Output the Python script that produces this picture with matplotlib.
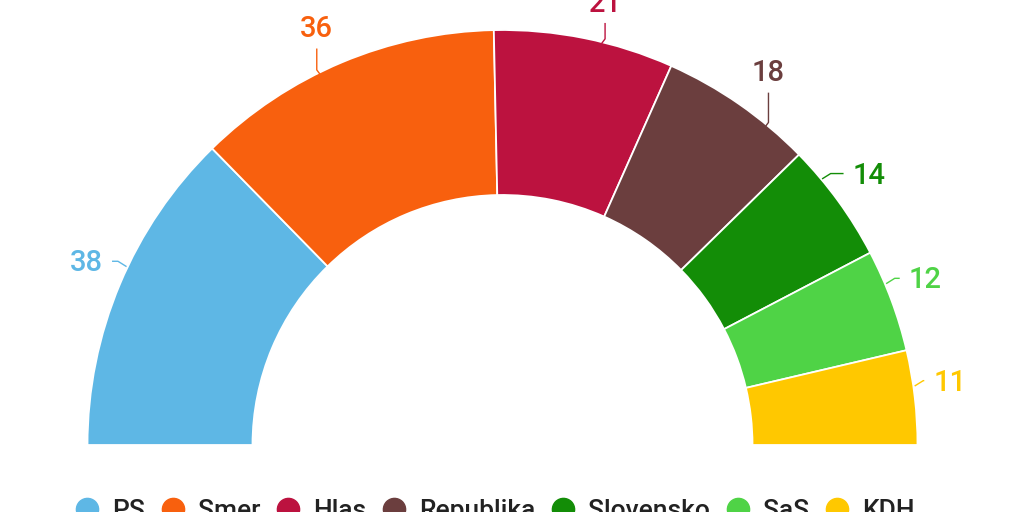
import numpy as np
import matplotlib.pyplot as plt
from matplotlib.lines import Line2D

plt.rcParams['font.family'] = ['Roboto', 'DejaVu Sans']

# seats per party (150 total)
parties = ['PS', 'Smer', 'Hlas', 'Republika', 'Slovensko', 'SaS', 'KDH']
seats = [38, 36, 21, 18, 14, 12, 11]
colors = ['#5EB7E5', '#F8600E', '#BC123F', '#6B3E3E', '#138D07', '#4FD346', '#FFC800']

W, H = 1024, 512
cx, cy = 502.5, H - 445   # centre of the half ring, pixel units (y up)
r_out, r_in = 415, 250

fig = plt.figure(figsize=(W / 100, H / 100), dpi=100)
ax = fig.add_axes([0, 0, 1, 1])

total = sum(seats)
wedges, _ = ax.pie(seats + [total], radius=r_out, center=(cx, cy),
                   startangle=180, counterclock=False,
                   colors=colors + ['none'],
                   wedgeprops=dict(width=r_out - r_in, edgecolor='white', linewidth=1.3))
wedges[-1].set_visible(False)

ax.set_xlim(0, W)
ax.set_ylim(0, H)
ax.set_aspect('equal')
ax.axis('off')

# data labels with small connectors
cum = np.cumsum([0] + seats)
for i, s in enumerate(seats):
    mid = (cum[i] + s / 2) / total * np.pi
    a = np.pi - mid
    sgn = 1 if np.cos(a) > 0 else -1
    lx = cx + 438 * np.cos(a)
    ly = cy + 438 * np.sin(a) + 14
    col = colors[i]
    if abs(np.cos(a)) < 0.6:
        # top labels: centred text, vertical connector
        tx = lx + 16 * sgn
        ax.text(tx, ly - 10, str(s), color=col, fontsize=21, fontweight='medium',
                ha='center', va='baseline')
        ey = cy + np.sqrt(r_out ** 2 - (tx - cx) ** 2)
        ax.plot([tx - 3 * sgn, tx, tx], [ey, ey + 4, ly - 22], color=col, lw=1)
    else:
        ha = 'left' if sgn > 0 else 'right'
        lx = lx - 4 * sgn
        ax.text(lx, ly - 10, str(s), color=col, fontsize=21, fontweight='medium',
                ha=ha, va='baseline')
        sy = ly - 5
        sx = cx + sgn * np.sqrt(r_out ** 2 - (sy - cy) ** 2) + 2 * sgn
        ex = lx - 10 * sgn
        ax.plot([sx, sx + 8 * sgn, ex], [sy, ly, ly], color=col, lw=1)

handles = [Line2D([], [], marker='o', linestyle='none', markersize=16,
                  markerfacecolor=c, markeredgecolor=c) for c in colors]
leg = fig.legend(handles, parties, loc='center', bbox_to_anchor=(495 / W, 1 / H),
                 ncol=len(parties), frameon=False, fontsize=19, handlelength=0.9,
                 handletextpad=0.5, columnspacing=0.6, borderaxespad=0, borderpad=0,
                 prop=dict(size=19, weight='medium'))
for t in leg.get_texts():
    t.set_color('#222222')

fig.savefig('out.png', dpi=100)
